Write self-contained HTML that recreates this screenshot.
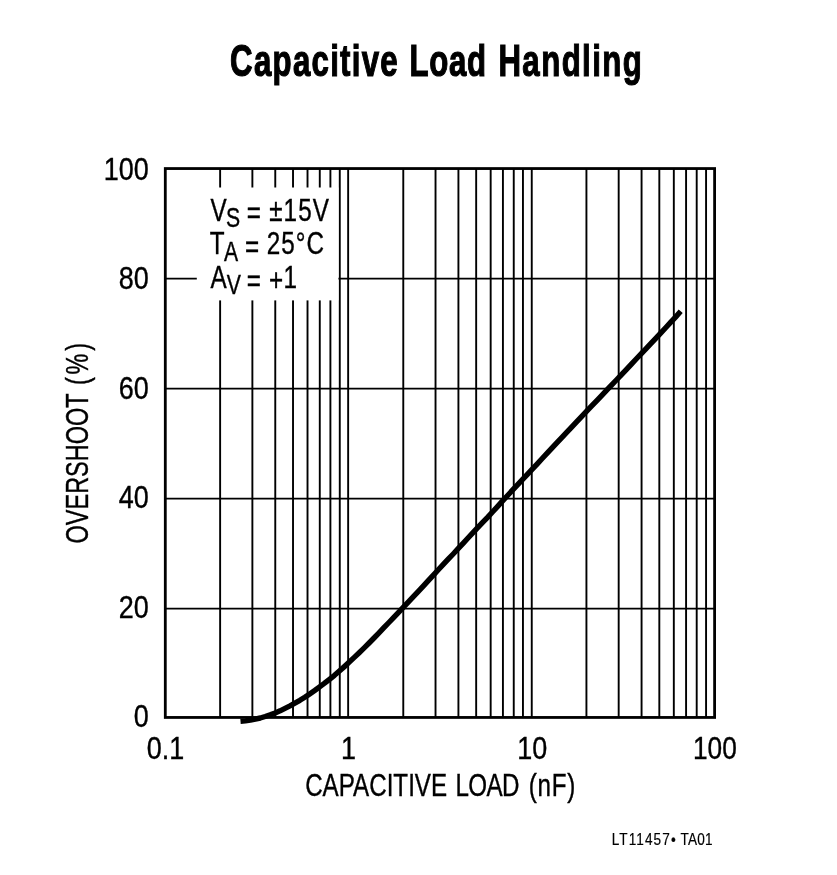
<!DOCTYPE html><html><head><meta charset="utf-8"><title>Capacitive Load Handling</title><style>html,body{margin:0;padding:0;background:#fff}</style></head><body><svg width="837" height="875" viewBox="0 0 837 875" style="display:block">
<rect width="837" height="875" fill="#fff"/>
<path d="M220.13 168.55V717.45M252.38 168.55V717.45M275.27 168.55V717.45M293.02 168.55V717.45M307.52 168.55V717.45M319.78 168.55V717.45M330.40 168.55V717.45M339.77 168.55V717.45M348.15 168.55V717.45M403.28 168.55V717.45M435.53 168.55V717.45M458.42 168.55V717.45M476.17 168.55V717.45M490.67 168.55V717.45M502.93 168.55V717.45M513.75 168.55V717.45M522.95 168.55V717.45M531.75 168.55V717.45M586.43 168.55V717.45M618.68 168.55V717.45M641.57 168.55V717.45M659.32 168.55V717.45M673.82 168.55V717.45M686.08 168.55V717.45M696.70 168.55V717.45M706.07 168.55V717.45M165.3 608.60H714.6M165.3 498.60H714.6M165.3 388.60H714.6M165.3 278.60H714.6" stroke="#000" stroke-width="1.9" fill="none"/>
<rect x="196.8" y="187.5" width="141.6" height="112.9" fill="#fff"/>
<path d="M240.5 721.3 L245.4 720.9 L250.4 720.2 L255.3 719.2 L260.3 718.0 L265.2 716.5 L270.2 714.8 L275.1 712.9 L280.1 710.8 L285.0 708.4 L290.0 705.9 L294.9 703.2 L299.9 700.3 L304.8 697.2 L309.7 693.9 L314.7 690.5 L319.6 686.9 L324.6 683.2 L329.5 679.3 L334.5 675.3 L339.4 671.0 L344.4 666.6 L349.3 662.1 L354.3 657.4 L359.2 652.7 L364.2 647.9 L369.1 643.0 L374.0 638.0 L379.0 632.9 L383.9 627.7 L388.9 622.5 L393.8 617.3 L398.8 612.1 L403.7 606.9 L408.7 601.6 L413.6 596.4 L418.6 591.1 L423.5 585.8 L428.5 580.4 L433.4 575.1 L438.3 569.7 L443.3 564.4 L448.2 559.2 L453.2 554.0 L458.1 548.7 L463.1 543.4 L468.0 538.0 L473.0 532.6 L477.9 527.4 L482.9 522.2 L487.8 517.1 L492.7 511.7 L497.7 506.3 L502.6 500.9 L507.6 495.5 L512.5 490.2 L517.5 484.9 L522.4 479.7 L527.4 474.4 L532.3 469.1 L537.3 463.8 L542.2 458.5 L547.2 453.2 L552.1 447.9 L557.0 442.6 L562.0 437.3 L566.9 432.1 L571.9 426.8 L576.8 421.6 L581.8 416.3 L586.7 411.1 L591.7 405.9 L596.6 400.8 L601.6 395.6 L606.5 390.4 L611.5 385.2 L616.4 380.0 L621.3 374.8 L626.3 369.6 L631.2 364.3 L636.2 359.0 L641.1 353.8 L646.1 348.6 L651.0 343.4 L656.0 338.1 L660.9 332.9 L665.9 327.5 L670.8 322.2 L675.8 316.8 L680.7 311.3" stroke="#000" stroke-width="5.4" fill="none" stroke-linejoin="round"/>
<rect x="165.3" y="168.55" width="549.30" height="548.90" fill="none" stroke="#000" stroke-width="2.8"/>
<text transform="translate(133.66 727.30) scale(0.8460 1)" font-family="Liberation Sans, sans-serif" font-size="31.9" fill="#000" stroke="#000" stroke-width="0.4">0</text>
<text transform="translate(118.69 618.40) scale(0.8460 1)" font-family="Liberation Sans, sans-serif" font-size="31.9" fill="#000" stroke="#000" stroke-width="0.4">20</text>
<text transform="translate(118.69 508.40) scale(0.8460 1)" font-family="Liberation Sans, sans-serif" font-size="31.9" fill="#000" stroke="#000" stroke-width="0.4">40</text>
<text transform="translate(118.69 399.40) scale(0.8460 1)" font-family="Liberation Sans, sans-serif" font-size="31.9" fill="#000" stroke="#000" stroke-width="0.4">60</text>
<text transform="translate(118.69 289.40) scale(0.8460 1)" font-family="Liberation Sans, sans-serif" font-size="31.9" fill="#000" stroke="#000" stroke-width="0.4">80</text>
<text transform="translate(103.64 179.80) scale(0.8460 1)" font-family="Liberation Sans, sans-serif" font-size="31.9" fill="#000" stroke="#000" stroke-width="0.4">100</text>
<text transform="translate(146.79 758.70) scale(0.8460 1)" font-family="Liberation Sans, sans-serif" font-size="31.9" fill="#000" stroke="#000" stroke-width="0.4">0.1</text>
<text transform="translate(340.93 758.70) scale(0.8460 1)" font-family="Liberation Sans, sans-serif" font-size="31.9" fill="#000" stroke="#000" stroke-width="0.4">1</text>
<text transform="translate(517.32 758.70) scale(0.8460 1)" font-family="Liberation Sans, sans-serif" font-size="31.9" fill="#000" stroke="#000" stroke-width="0.4">10</text>
<text transform="translate(692.98 758.70) scale(0.8223 1)" font-family="Liberation Sans, sans-serif" font-size="31.9" fill="#000" stroke="#000" stroke-width="0.4">100</text>
<text transform="translate(0 796.40) scale(0.7650 1)" font-family="Liberation Sans, sans-serif" font-size="31.6" fill="#000" stroke="#000" stroke-width="0.4"><tspan x="398.88" letter-spacing="0.010">CAPACITIVE</tspan> <tspan x="595.50" letter-spacing="-0.861">LOAD</tspan> <tspan x="691.17" letter-spacing="1.010">(nF)</tspan></text>
<text transform="translate(87.5 542.5) rotate(-90) translate(0 0.00) scale(0.7436 1)" font-family="Liberation Sans, sans-serif" font-size="31.6" fill="#000" stroke="#000" stroke-width="0.4"><tspan x="-1.30" letter-spacing="-0.001">OVERSHOOT</tspan> <tspan x="211.78" letter-spacing="3.699">(%)</tspan></text>
<text transform="translate(0 76.20) scale(0.7050 1)" font-family="Liberation Sans, sans-serif" font-size="44.3" font-weight="bold" fill="#000" stroke="#000" stroke-width="1.2"><tspan x="326.35" letter-spacing="1.810">Capacitive</tspan> <tspan x="580.73" letter-spacing="1.006">Load</tspan> <tspan x="706.97" letter-spacing="2.006">Handling</tspan></text>
<text transform="translate(0 844.80) scale(0.8000 1)" font-family="Liberation Sans, sans-serif" font-size="17" fill="#000" stroke="#000" stroke-width="0.2"><tspan x="764.57" letter-spacing="1.369">LT11457•</tspan> <tspan x="850.72" letter-spacing="0.253">TA01</tspan></text>
<text transform="translate(0 220.50) scale(0.7680 1)" font-family="Liberation Sans, sans-serif" font-size="31.6" fill="#000" stroke="#000" stroke-width="0.4"><tspan x="274.00">V</tspan><tspan x="294.27" font-size="27.6" dy="6.90">S</tspan><tspan x="312.38" dy="-4.00"> = </tspan><tspan x="350.61" letter-spacing="1.353" dy="-2.90">±15V</tspan></text>
<text transform="translate(0 253.80) scale(0.7680 1)" font-family="Liberation Sans, sans-serif" font-size="31.6" fill="#000" stroke="#000" stroke-width="0.4"><tspan x="273.19">T</tspan><tspan x="291.54" font-size="27.6" dy="6.80">A</tspan><tspan x="310.16" dy="-3.90"> = </tspan><tspan x="347.19" letter-spacing="1.405" dy="-2.90">25°C</tspan></text>
<text transform="translate(0 288.15) scale(0.7680 1)" font-family="Liberation Sans, sans-serif" font-size="31.6" fill="#000" stroke="#000" stroke-width="0.4"><tspan x="274.08">A</tspan><tspan x="295.11" font-size="27.6" dy="5.85">V</tspan><tspan x="312.38" dy="-2.95"> = </tspan><tspan x="350.31" dy="0.10">+</tspan><tspan x="369.18" dy="-3.00">1</tspan></text>
</svg></body></html>
